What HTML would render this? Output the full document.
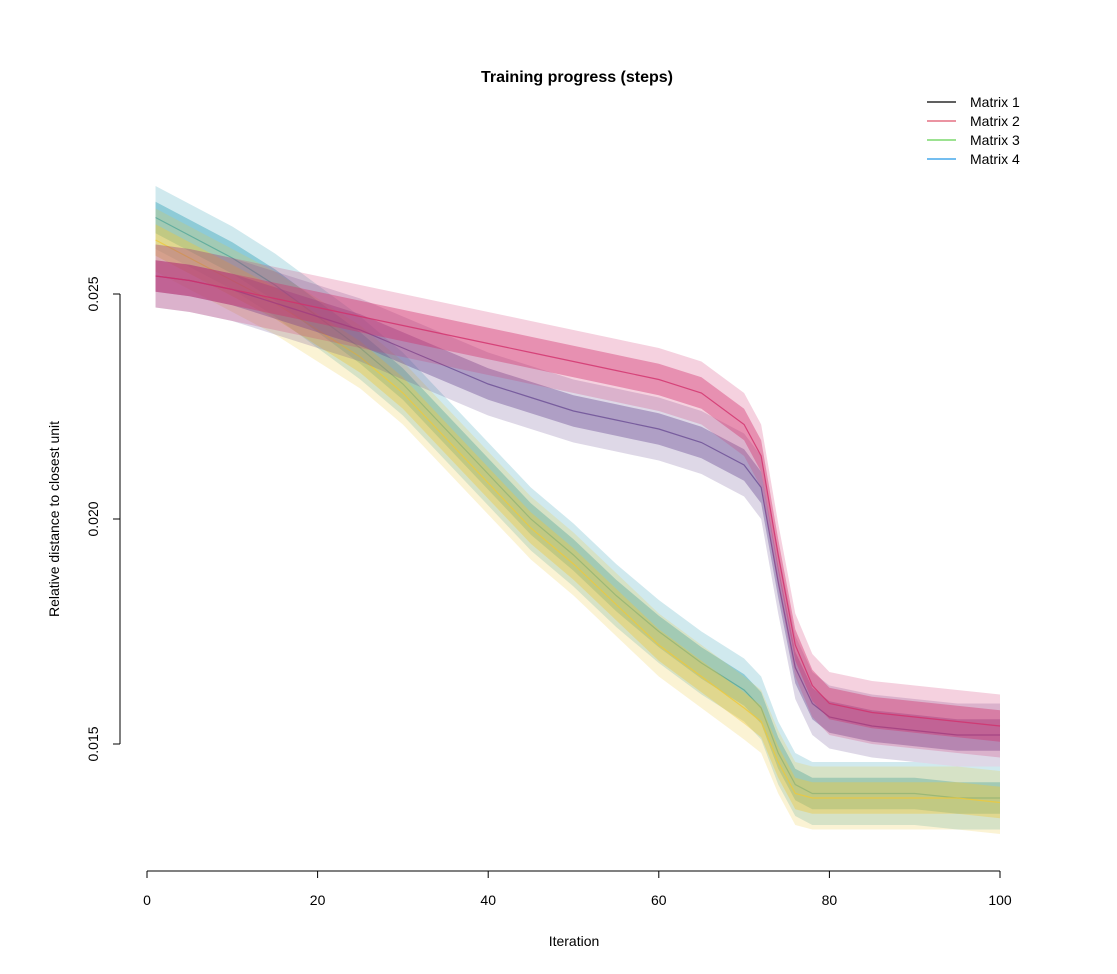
<!DOCTYPE html>
<html><head><meta charset="utf-8"><style>
body{margin:0;background:#fff;}
svg{display:block;font-family:"Liberation Sans",Arial,sans-serif;}
</style></head><body>
<svg id="chart" width="1117" height="974" viewBox="0 0 1117 974">
<text x="577" y="82" text-anchor="middle" font-size="16" font-weight="bold">Training progress (steps)</text>
<g id="bands"></g>
<g id="axes"></g>
<text x="574" y="946" text-anchor="middle" font-size="14">Iteration</text>
<text transform="translate(59,519) rotate(-90)" text-anchor="middle" font-size="14">Relative distance to closest unit</text>
<g id="legend"></g>
</svg>
<script>
const iters = [1,5,10,15,20,25,30,35,40,45,50,55,60,65,70,72,74,76,78,80,85,90,95,100];
const pinkVals = [.0254,.0253,.0251,.0249,.0247,.0245,.0243,.0241,.0239,.0237,.0235,.0233,.0231,.0228,.0221,.0214,.0192,.0172,.0163,.0159,.0157,.0156,.0155,.0154];
const purpleVals = [.0254,.0253,.0251,.0248,.0245,.0242,.0238,.0234,.0230,.0227,.0224,.0222,.0220,.0217,.0212,.0207,.0186,.0167,.0159,.0156,.0154,.0153,.0152,.0152];
const tealVals = [.0267,.0263,.0258,.0252,.0245,.0238,.0230,.0220,.0210,.0200,.0192,.0183,.0175,.0168,.0162,.0158,.0148,.0141,.0139,.0139,.0139,.0139,.0138,.0138];
const yellowVals = [.0262,.0258,.0253,.0248,.0242,.0236,.0228,.0218,.0208,.0198,.0190,.0181,.0172,.0165,.0158,.0155,.0146,.0139,.0138,.0138,.0138,.0138,.0138,.0137];
const spread = 0.0007;
const xTicks = [0,20,40,60,80,100];
const yTicks = [0.015,0.020,0.025];
const legendLabels = ["Matrix 1","Matrix 2","Matrix 3","Matrix 4"];

const NS="http://www.w3.org/2000/svg";
const xs=v=>147+(v/100)*853;
const ys=v=>519-(v-0.020)*45000;
function mk(t,a,p){const e=document.createElementNS(NS,t);for(const k in a)e.setAttribute(k,a[k]);p.appendChild(e);return e;}

const bands=document.getElementById('bands');
const series=[[tealVals,'#2a9db3','teal'],[yellowVals,'#efc93a','yellow'],[purpleVals,'#6a4c93','purple'],[pinkVals,'#d22f6c','pink']];
series.forEach(([vals,col,nm])=>{
  let up=iters.map((x,i)=>xs(x)+','+ys(vals[i]+spread));
  let lo=iters.map((x,i)=>xs(x)+','+ys(vals[i]-spread)).reverse();
  const b=mk('polygon',{points:up.concat(lo).join(' '),fill:col,'fill-opacity':0.22},bands);
  
  
  const inner=mk('polygon',{points:iters.map((x,i)=>xs(x)+','+ys(vals[i]+spread*0.5)).concat(iters.map((x,i)=>xs(x)+','+ys(vals[i]-spread*0.5)).reverse()).join(' '),fill:col,'fill-opacity':0.4},bands);
  
  
  const l=mk('polyline',{points:iters.map((x,i)=>xs(x)+','+ys(vals[i])).join(' '),fill:'none',stroke:col,'stroke-width':1.2,'stroke-opacity':0.8},bands);
  
  
});

const ax=document.getElementById('axes');
mk('line',{x1:xs(0),x2:xs(100),y1:871,y2:871,stroke:'#000'},ax);
xTicks.forEach(t=>{
  mk('line',{x1:xs(t),x2:xs(t),y1:871,y2:878,stroke:'#000'},ax);
  const tx=mk('text',{x:xs(t),y:905,'text-anchor':'middle','font-size':14},ax);tx.textContent=t;
  
  
});
mk('line',{x1:120,x2:120,y1:ys(0.025),y2:ys(0.015),stroke:'#000'},ax);
yTicks.forEach(t=>{
  mk('line',{x1:113,x2:120,y1:ys(t),y2:ys(t),stroke:'#000'},ax);
  const tx=mk('text',{transform:`translate(98,${ys(t)}) rotate(-90)`,'text-anchor':'middle','font-size':14},ax);tx.textContent=t.toFixed(3);
  
  
});

const lg=document.getElementById('legend');
const lcols=['#000000','#df536b','#61d04f','#2297e6'];
legendLabels.forEach((s,i)=>{
  const y=102+i*19;
  mk('line',{x1:927,x2:956,y1:y,y2:y,stroke:lcols[i],'stroke-width':1.2},lg);
  const t=mk('text',{x:970,y:y+5,'font-size':14},lg);t.textContent=s;
  
  
});
</script>
</body></html>
